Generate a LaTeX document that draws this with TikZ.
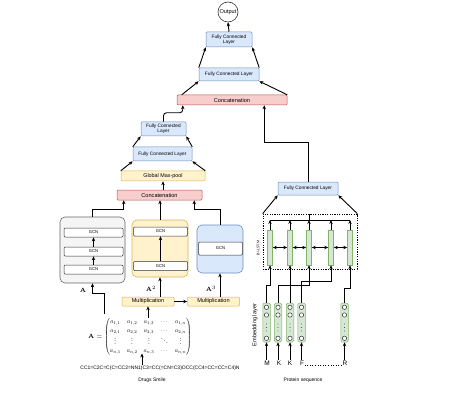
\documentclass[tikz,border=0pt]{standalone}
\usepackage{amsmath}
\usepackage[no-math]{fontspec}
\setmainfont{Liberation Sans}
\usetikzlibrary{arrows.meta,positioning}

\definecolor{fcfill}{HTML}{DAE8FC}
\definecolor{fcline}{HTML}{6C8EBF}
\definecolor{catfill}{HTML}{F8CECC}
\definecolor{catline}{HTML}{B85450}
\definecolor{ylfill}{HTML}{FFF2CC}
\definecolor{ylline}{HTML}{D6B656}
\definecolor{gnfill}{HTML}{D5E8D4}
\definecolor{gnline}{HTML}{82B366}
\definecolor{gyfill}{HTML}{F5F5F5}
\definecolor{gyline}{HTML}{666666}

\begin{document}
\begin{tikzpicture}[x=1pt,y=-1pt,>={Stealth[length=4pt,width=3.4pt]},
	lay/.style={draw, rounded corners=1pt, line width=0.5pt, inner sep=0pt, align=center, font=\fontsize{4.8}{5.4}\selectfont},
	fcl/.style={lay, fill=fcfill, draw=fcline},
	catl/.style={lay, fill=catfill, draw=catline, font=\fontsize{5.6}{6}\selectfont},
	poolbox/.style={lay, fill=ylfill, draw=ylline, font=\fontsize{5.4}{6}\selectfont},
	mult/.style={lay, fill=ylfill, draw=ylline, font=\fontsize{5.6}{6}\selectfont, minimum width=52, minimum height=9},
	gcn/.style={lay, fill=white, draw=black!80, font=\fontsize{4.2}{5}\selectfont, minimum height=9},
	grp/.style={draw, rounded corners=5pt, line width=0.6pt, inner sep=0pt},
	lstmbar/.style={draw=gnline, fill=gnfill, line width=0.5pt, minimum width=5, minimum height=35, inner sep=0pt},
	embcol/.style={draw=gnline, fill=gnfill, rounded corners=1.5pt, line width=0.5pt, minimum width=7.5, minimum height=39, inner sep=0pt},
	link/.style={->, line width=0.9pt},
	txt/.style={inner sep=0pt, font=\fontsize{5}{6}\selectfont}
]
	\useasboundingbox (0,0) rectangle (474,409);

	\node[circle, draw=black!80, line width=0.6pt, minimum size=20, inner sep=0pt, font=\fontsize{5.6}{6}\selectfont] (out) at (228,12) {Output};
	\node[fcl, minimum width=46, minimum height=15] (fcA1) at (229,39.5) {Fully Connected\\Layer};
	\node[fcl, minimum width=60, minimum height=13] (fcA2) at (229,74.5) {Fully Connected Layer};
	\node[catl, minimum width=110, minimum height=10] (catA) at (232,100) {Concatenation};

	\node[fcl, minimum width=45, minimum height=14] (fcB1) at (163.5,129) {Fully Connected\\Layer};
	\node[fcl, minimum width=59, minimum height=14] (fcB2) at (162.5,154) {Fully Connected Layer};
	\node[poolbox, minimum width=84, minimum height=10] (pool) at (163,176) {Global Max-pool};
	\node[catl, minimum width=85, minimum height=10] (catB) at (159.5,195) {Concatenation};

	\node[grp, fill=gyfill, draw=gyline, minimum width=65, minimum height=66] (gray) at (92.5,250) {};
	\node[gcn, minimum width=59] (g1) at (93.5,232.5) {GCN};
	\node[gcn, minimum width=59] (g2) at (93.5,251.5) {GCN};
	\node[gcn, minimum width=59] (g3) at (93.5,269.5) {GCN};
	\node[grp, fill=ylfill, draw=ylline, minimum width=56, minimum height=57] (yel) at (160,248.5) {};
	\node[gcn, minimum width=54] (y1) at (160.5,231.5) {GCN};
	\node[gcn, minimum width=54] (y2) at (160.5,266) {GCN};
	\node[grp, fill=fcfill, draw=fcline, minimum width=46, minimum height=48] (blu) at (220,249) {};
	\node[gcn, minimum width=44, minimum height=13] (bg) at (220.5,248.5) {GCN};

	\node[font=\fontsize{6}{6}\selectfont] (la1) at (83,290) {$\mathbf{A}$};
	\node[font=\fontsize{6}{6}\selectfont] (la2) at (151,289) {$\mathbf{A}^2$};
	\node[font=\fontsize{6}{6}\selectfont] (la3) at (211,289) {$\mathbf{A}^3$};

	\node[mult] (m1) at (148,301.5) {Multiplication};
	\node[mult] (m2) at (213.5,301.5) {Multiplication};

	\node[inner sep=0pt] (mat) at (148,336.5) {\scalebox{0.62}{$\renewcommand{\arraystretch}{1.15}\begin{pmatrix}
		a_{1,1} & a_{1,2} & a_{1,3} & \cdots & a_{1,n}\\
		a_{2,1} & a_{2,2} & a_{2,3} & \cdots & a_{2,n}\\
		\vdots & \vdots & \vdots & \ddots & \vdots\\
		a_{n,1} & a_{n,2} & a_{n,3} & \cdots & a_{n,n}
	\end{pmatrix}$}};
	\node[inner sep=0pt, font=\fontsize{6}{6}\selectfont, left=2pt of mat] (matl) {$\mathbf{A} =$};
	\node[txt] (smiles) at (160,368) {CC1=C2C=C(C=CC2=NN1)C3=CC(=CN=C3)OCC(CC4=CC=CC=C4)N};
	\node[txt] (drug) at (152,380) {Drugs Smile};

	\node[fcl, minimum width=60, minimum height=13] (fcC) at (308,188.5) {Fully Connected Layer};
	\node[draw, dash pattern=on 1.2pt off 1.2pt, line width=0.7pt, minimum width=94, minimum height=55, inner sep=0pt] (lstm) at (310,241.5) {};
	\node[txt, rotate=90, font=\fontsize{3.6}{4}\selectfont] (bil) at (258,248) {Bi-LSTM};
	\foreach \x [count=\i] in {270,290,309,331,350}
		\node[lstmbar] (b\i) at (\x,247.5) {};

	\foreach \x [count=\i] in {266.5,278,290,301.5,344.5} {
		\node[embcol] (e\i) at (\x,322.5) {};
		\foreach \cy in {307.3,315,338.3}
			\draw[draw=black!80, fill=white, line width=0.5pt] (\x,\cy) circle (2.2pt);
		\foreach \dy in {324,327.5,331}
			\fill (\x,\dy) circle (0.4pt);
	}
	\foreach \x/\l [count=\i] in {267/M,279/K,290/K,302/F,345/R}
		\node[inner sep=0.5pt, font=\fontsize{6.5}{7}\selectfont] (s\i) at (\x,363) {\l};
	\node[txt, rotate=90, font=\fontsize{5.6}{6}\selectfont] (embl) at (255,325) {Embedding layer};
	\node[txt] (prot) at (303,380) {Protein sequence};

	\coordinate (busL) at (0,220);
	\coordinate (hA) at (0,293);
	\coordinate (h1) at (0,285);
	\coordinate (h2) at (0,281);
	\coordinate (h3) at (0,288);

	\path[link] (fcA1.north) edge (out.south);
	\path[link] (fcA2.north west) edge (fcA1.south west);
	\path[link] (fcA2.north east) edge (fcA1.south east);
	\path[link] ([xshift=5]catA.north west) edge (fcA2.south west);
	\path[link] (catA.north east) edge (fcA2.south east);

	\draw[link, rounded corners=3pt] (fcB1.north) -- ++(0,-9) -| ([xshift=6]catA.south west);
	\draw[link] (fcC.north) -- ++(0,-39) -| ([xshift=-23]catA.south east);

	\path[link] (fcB2.north west) edge (fcB1.south west);
	\path[link] (fcB2.north east) edge (fcB1.south east);
	\path[link] (pool.north west) edge (fcB2.south west);
	\path[link] (pool.north east) edge (fcB2.south east);
	\draw[link] (pool.south |- catB.north) -- (pool.south);

	\draw[link] (gray.north) -- ++(0,-7) -| ([xshift=7]catB.south west);
	\draw[link] (yel.north) -- (yel.north |- catB.south);
	\draw[link] (blu.north) -- ++(0,-15) -| ([xshift=-8]catB.south east);

	\path[link] (g3) edge (g2);
	\path[link] (g2) edge (g1);
	\path[link] (y2) edge (y1);

	\draw[link] ([yshift=4]mat.north west) -- (mat.north west |- hA) -| (gray.south);
	\draw[link] (yel.south |- m1.north) -- (yel.south);
	\draw[link] (blu.south |- m2.north) -- (blu.south);
	\path[link] (m1) edge (m2);
	\draw[link] (m1.south |- mat.north) -- (m1.south);
	\draw[link] ([xshift=-18]smiles.north) -- ++(0,-12);

	\path[link] (lstm.north west) edge (fcC.south west);
	\path[link] (lstm.north east) edge (fcC.south east);
	\draw[line width=0.9pt] (b1.north |- busL) -- (b5.north |- busL);
	\draw[line width=0.9pt] (b3.north |- busL) -- (b3.north |- lstm.north);
	\foreach \i in {1,...,5}
		\draw[link] (b\i.north) -- (b\i.north |- busL);
	\foreach \i/\j in {1/2,2/3,3/4,4/5}
		\path[<->, line width=0.9pt] (b\i) edge (b\j);

	\draw[link] (e1.north) -- (e1.north |- h1) -| (b1.south);
	\draw[link] (e2.north) -- (e2.north |- h1) -| (b3.south);
	\draw[link] (e3.north) -- (e3.north |- b2.south);
	\draw[link] (e4.north) -- (e4.north |- h2) -| (b4.south);
	\draw[link] (e5.north) -- (e5.north |- h3) -| (b5.south);
	\foreach \i in {1,...,5}
		\draw[link] (s\i.north -| e\i.south) -- (e\i.south);
	\draw[dotted, line width=0.6pt] (s4.base east) -- (s5.base west);
\end{tikzpicture}
\end{document}
